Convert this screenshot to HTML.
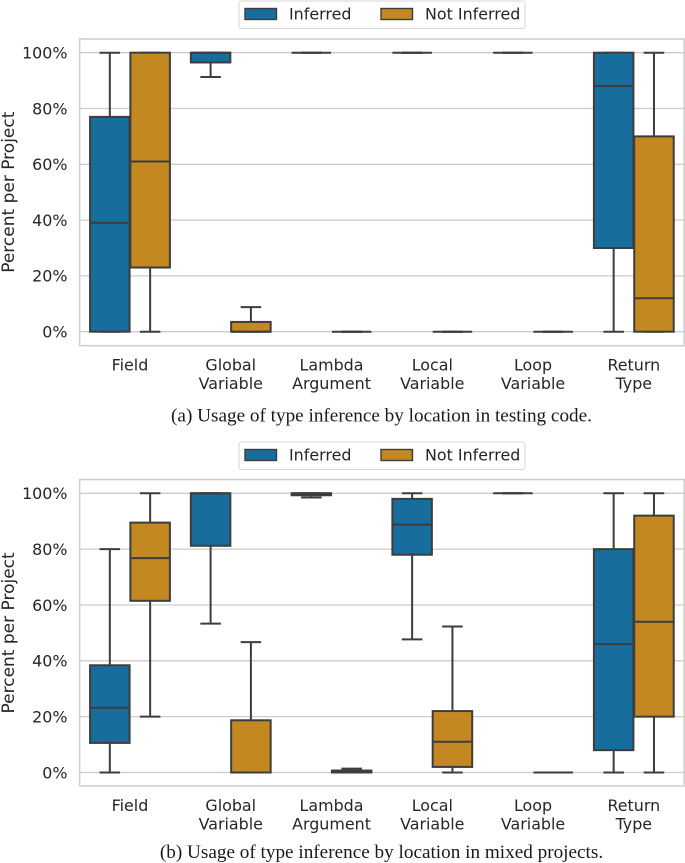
<!DOCTYPE html>
<html>
<head>
<meta charset="utf-8">
<style>
html,body{margin:0;padding:0;background:#fff;width:685px;height:863px;overflow:hidden}
svg{display:block}
.tick{font-family:"DejaVu Sans",sans-serif;font-size:15.9px;fill:#262626}
.ytitle{font-family:"DejaVu Sans",sans-serif;font-size:17px;fill:#262626}
.cap{font-family:"Liberation Serif",serif;font-size:19.2px;fill:#1a1a1a}
</style>
</head>
<body>
<svg id="fig" xmlns="http://www.w3.org/2000/svg" width="685" height="863" viewBox="0 0 685 863"></svg>
<script>
const categories = [["Field"],["Global","Variable"],["Lambda","Argument"],["Local","Variable"],["Loop","Variable"],["Return","Type"]];
const seriesNames = ["Inferred","Not Inferred"];
const yTicks = [0,20,40,60,80,100];
// [whisker low, q1, median, q3, whisker high]
const testingInferred = [[0,0,39,77,100],[91.3,96.5,100,100,100],[100,100,100,100,100],[100,100,100,100,100],[100,100,100,100,100],[0,30,88,100,100]];
const testingNotInferred = [[0,23,61,100,100],[0,0,0,3.5,8.8],[0,0,0,0,0],[0,0,0,0,0],[0,0,0,0,0],[0,0,12,70,100]];
const mixedInferred = [[0,10.6,23.2,38.4,80],[53.3,81.2,100,100,100],[98.5,99.3,100,100,100],[47.7,78,88.8,98,100],[100,100,100,100,100],[0,8,46,80,100]];
const mixedNotInferred = [[20,61.5,76.8,89.5,100],[0,0,0,18.7,46.7],[0,0,0,0.7,1.4],[0,2,11,22,52.3],[0,0,0,0,0],[0,20,54,92,100]];
const captions = ["(a) Usage of type inference by location in testing code.","(b) Usage of type inference by location in mixed projects."];

const NS = "http://www.w3.org/2000/svg";
const fig = document.getElementById("fig");
const BLUE = "#176d9c", ORANGE = "#c38820", EDGE = "#3d3d3d", GRID = "#cccccc";
const X0 = 79.6, X1 = 684.2;
const step = (X1 - X0) / categories.length;
const xScale = (i) => X0 + step * (i + 0.5);

function mk(tag, attrs, parent) {
  const el = document.createElementNS(NS, tag);
  for (const k in attrs) el.setAttribute(k, attrs[k]);
  (parent || fig).appendChild(el);
  return el;
}

function drawBox(g, cx, w, s, yScale, fill, name) {
  const box = mk("g", {}, g);
  
  
  const ln = (x1, y1, x2, y2) => mk("line", {x1, y1, x2, y2, stroke: EDGE, "stroke-width": 2}, box);
  const lo = yScale(s[0]), q1 = yScale(s[1]), med = yScale(s[2]), q3 = yScale(s[3]), hi = yScale(s[4]);
  const capW = w * 0.26;
  ln(cx, q1, cx, lo);
  ln(cx, q3, cx, hi);
  ln(cx - capW, lo, cx + capW, lo);
  ln(cx - capW, hi, cx + capW, hi);
  mk("rect", {x: cx - w / 2, y: q3, width: w, height: Math.max(q1 - q3, 0), fill: fill, stroke: EDGE, "stroke-width": 2}, box);
  ln(cx - w / 2, med, cx + w / 2, med);
}

function drawLegend(top, id) {
  const g = mk("g", {});
  
  
  mk("rect", {x: 239, y: top + 1, width: 286, height: 27.5, rx: 2.5, fill: "#fff", stroke: "#d6d6d6", "stroke-width": 1}, g);
  const hx = [245, 381], tx = [289, 425], cols = [BLUE, ORANGE];
  seriesNames.forEach((n, i) => {
    const sw = mk("rect", {x: hx[i], y: top + 8.5, width: 31.5, height: 11, fill: cols[i], stroke: EDGE, "stroke-width": 1.4}, g);
    
    
    const t = mk("text", {x: tx[i], y: top + 19.6, "class": "tick"}, g);
    
    
    t.textContent = n;
  });
}

function drawPanel(id, axTop, axBot, y100, y0, infer, notInfer, caption, capY, catY) {
  const yScale = (v) => y0 + (y100 - y0) * v / 100;
  const g = mk("g", {});
  
  
  yTicks.forEach((v) => {
    const gl = mk("line", {x1: X0, x2: X1, y1: yScale(v), y2: yScale(v), stroke: GRID, "stroke-width": 1.3}, g);
    
    
    const t = mk("text", {x: 67.5, y: yScale(v) + 5.8, "text-anchor": "end", "class": "tick"}, g);
    
    
    t.textContent = v + "%";
  });
  const w = step * 0.392;
  const off = step * 0.2;
  categories.forEach((c, i) => {
    drawBox(g, xScale(i) - off, w, infer[i], yScale, BLUE, 'box-inferred');
    drawBox(g, xScale(i) + off, w, notInfer[i], yScale, ORANGE, 'box-not-inferred');
    c.forEach((line, j) => {
      const t = mk("text", {x: xScale(i), y: catY + j * 18.4, "text-anchor": "middle", "class": "tick"}, g);
      
      
      t.textContent = line;
    });
  });
  const frame = mk("rect", {x: X0, y: axTop, width: X1 - X0, height: axBot - axTop, fill: "none", stroke: "#d0d0d0", "stroke-width": 1.6}, g);
  
  
  const yc = (y100 + y0) / 2;
  const yl = mk("text", {x: 0, y: 0, transform: "translate(14," + yc + ") rotate(-90)", "text-anchor": "middle", "class": "ytitle"}, g);
  
  
  yl.textContent = "Percent per Project";
  const cp = mk("text", {x: 381.5, y: capY, "text-anchor": "middle", "class": "cap"}, g);
  
  
  cp.textContent = caption;
}

drawPanel("testing", 39, 345.7, 52.7, 331.7, testingInferred, testingNotInferred, captions[0], 421.7, 370.7);
drawPanel("mixed", 479.5, 786, 493.3, 772.5, mixedInferred, mixedNotInferred, captions[1], 858, 811);
drawLegend(0, "testing");
drawLegend(441, "mixed");
</script>
</body>
</html>
